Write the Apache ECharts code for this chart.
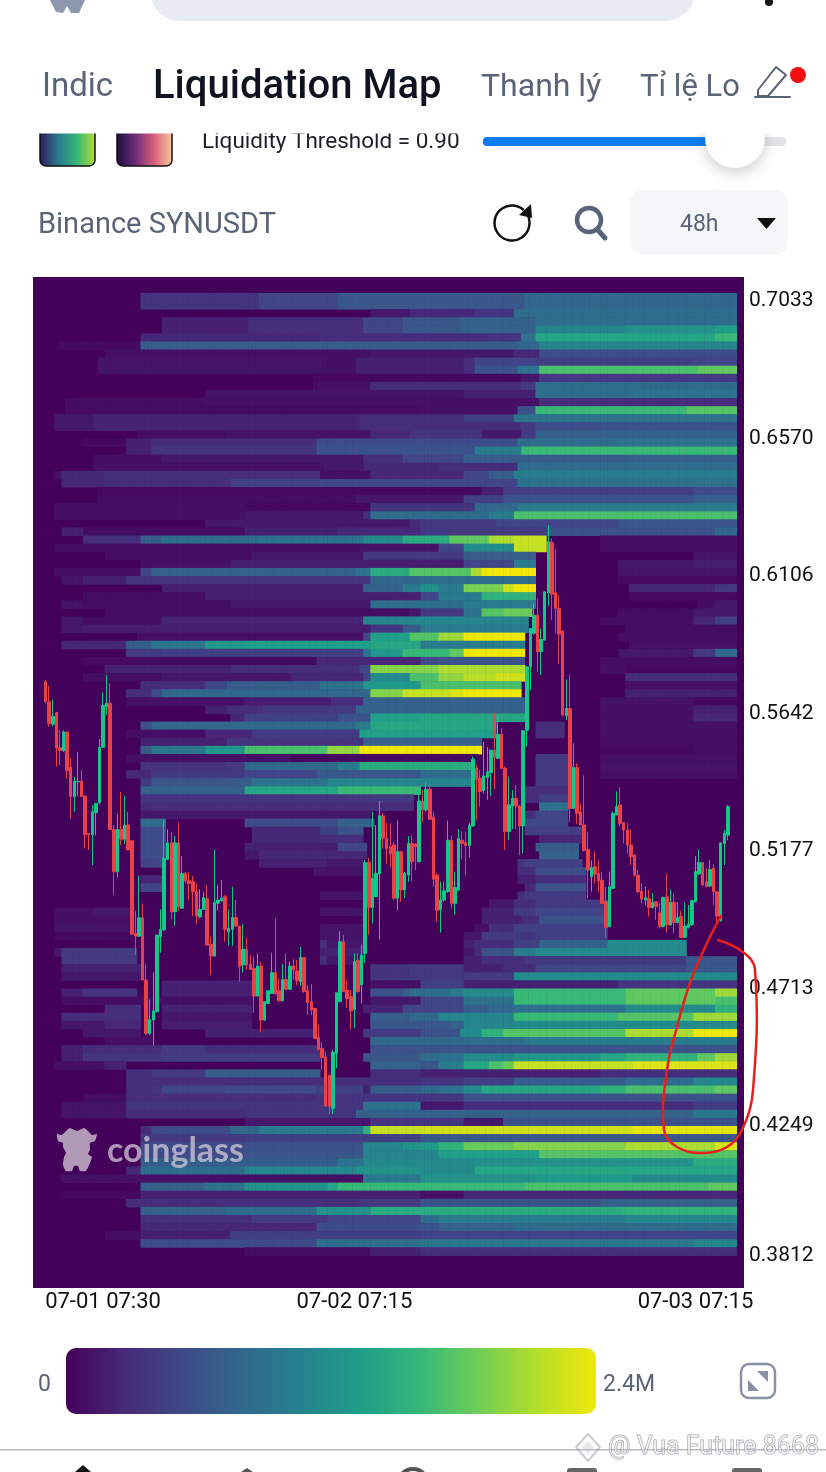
<!DOCTYPE html>
<html><head><meta charset="utf-8">
<style>html,body{margin:0;padding:0;background:#fff}#c{width:826px;height:1472px}</style>
<script src="https://cdn.jsdelivr.net/npm/echarts@6/dist/echarts.min.js"></script>
</head><body><div id="c"></div>
<script>
// ---- tick labels ----
const priceTicks = ['0.7033','0.6570','0.6106','0.5642','0.5177','0.4713','0.4249','0.3812'];
const timeTickLabels = ['07-01 07:30','07-02 07:15','07-03 07:15'];
const timeTickBars = [19, 89, 184];
const legendMin = '0', legendMax = '2.4M';
const maxLiquidity = 2.4; // millions
const viridis = ['#44015a','#472a7a','#3f4a89','#31688e','#26828e','#1f9e89','#35b779','#6ece58','#b5de2b','#f0e80a'];

// ---- price rows: 0.00273 per row, top to bottom ----
const rowCount = 125, barCount = 198, rowStep = 0.00273, topTickRow = 2, firstCandleBar = 3, heatEndBar = 196;

// ---- liquidation heat, one list per price row from 0.7033 downward;
//      each list is pairs: first bar of a run, liquidity (millions) ----
const heatRuns = [
[30,.35,63,.5,85,.65,137,.8],
[30,.35,63,.5,85,.65,137,.8],
[94,.15,105,.25,123,.35,134,.85],
[36,.2,60,.3,92,.5,103,.65,119,.75,140,.85],
[36,.2,60,.3,92,.5,103,.65,119,.75,140,1.1,165,1.22,190,1.35],
[30,.25,80,.3,127,.35,136,.9,140,1.42,190,1.62],
[7,.06,30,.7,135,.8,141,1.1],
[20,.1,94,.15,134,.25,141,.55],
[18,.12,82,.1,90,.2,120,.3,123,.5,140,.45,184,.5],
[18,.12,82,.1,90,.2,120,.3,123,.6,135,.9,141,1.7,185,1.8],
[78,.05,136,.15,141,.4],
[78,.1,94,.3,136,.4,140,.85],
[48,.12,120,.2,140,.85,167,.9],
[9,.08,48,.1,141,.3],
[9,.07,108,.1,135,.6,140,1.62,182,1.75],
[6,.15,17,.22,91,.3,120,.45,134,.9],
[6,.15,17,.22,91,.3,136,.4,140,.55,158,.6],
[29,.08,54,.12,94,.25,105,.35,125,.15,136,.4,140,.75],
[14,.05,26,.2,33,.3,79,.55,135,.85,163,.9],
[26,.2,33,.35,79,.6,123,1.0,136,1.62],
[17,.08,36,.15,92,.3,103,.5,120,.7,165,.75],
[17,.1,81,.15,92,.25,113,.3,135,.85],
[6,.1,8,.25,20,.3,80,.1,94,.25,120,.5,127,.7,134,1.0],
[8,.25,20,.3,55,.45,80,.5,135,.9],
[18,.05,125,.2,131,.45,184,.55],
[18,.08,90,.15,120,.45,131,.6,184,.75],
[6,.1,59,.05,94,.35,123,.8,135,1.0],
[6,.1,59,.15,92,.3,94,.85,127,1.0,134,1.7],
[48,.15,105,.3,108,.4,129,.5,163,.65],
[8,.2,14,.08,59,.2,85,.25,108,.4,143,.6,190,.8],
[14,.3,30,.7,36,.85,63,.9,92,1.15,103,1.48,116,1.8,127,2.1,134,2.2,143,0,158,.08],
[6,.08,91,.12,113,.5,120,1.15,134,2.2,143,0,158,.08],
[20,.08,61,.15,92,.4,120,.7,140,0,184,.12],
[30,.1,55,.18,120,.5,134,1.0,140,0,163,.15,184,.18],
[6,.1,30,.5,33,.75,90,.9,94,1.48,105,1.75,122,2.1,125,2.4,140,0,163,.12],
[8,.12,14,.2,26,.35,94,.8,108,.85,140,0,163,.05],
[36,.2,92,.75,103,1.0,108,1.22,113,1.0,120,1.9,131,2.25,134,2.4,140,0,166,.25,190,.4],
[14,.08,48,.2,108,.5,113,1.0,125,1.55,140,0,166,.05],
[8,.12,14,.08,55,.15,94,.85,120,1.0,140,0,185,.08,190,.15],
[20,.08,105,.15,108,.4,120,.9,125,1.75,131,1.85,139,0,163,.08,184,.15],
[8,.15,14,.08,36,.22,92,1.1,138,0,158,.08,184,.25,190,.45],
[8,.15,14,.18,94,.35,103,.7,108,1.0,138,0,165,.08],
[29,.1,92,.5,94,1.35,105,1.75,113,2.05,120,2.4,137,0,163,.08],
[8,.25,26,.7,33,.95,48,1.28,59,1.35,94,1.42,108,1.0,137,0,166,.1],
[26,.4,36,.45,92,.9,94,1.28,103,1.62,116,1.8,120,2.4,137,0,163,.15,184,.4,190,.8],
[14,.06,79,.25,108,.55,113,.6,137,0,158,.08],
[20,.2,55,.3,91,.5,94,1.95,113,2.1,137,0,158,.1,165,.05],
[14,.08,36,.15,72,.25,92,.5,94,1.15,105,1.7,113,2.0,120,2.15,129,2.25,137,0,165,.3],
[30,.3,48,.5,54,.7,80,.9,92,1.28,108,1.7,136,0,165,.1],
[26,.3,33,.55,36,.8,94,1.95,103,2.2,116,2.3,120,2.4,136,0,165,.2],
[26,.1,59,.18,83,.3,92,.75,137,0,158,.12,184,.05],
[48,.2,54,.3,64,.4,90,.75,137,0,158,.1,184,.2],
[55,.25,59,.45,85,.6,94,1.35,108,1.42,137,0,158,.1,184,.25],
[30,.6,33,.8,90,1.0,94,1.42,129,0,140,.3,148,0,158,.1],
[26,.08,48,.25,61,.4,91,1.35,129,0,140,.3,148,0,158,.1],
[30,.2,54,.35,92,.75,125,0,158,.08],
[30,.7,33,.95,48,1.28,59,1.7,82,2.0,91,2.4,125,0,158,.05,184,.08],
[26,.1,72,.05,124,0,140,.4,149,0,158,.1],
[30,.35,54,.4,59,.8,85,1.0,91,1.48,123,0,140,.4,149,0,158,.12],
[26,.25,33,.4,59,.5,79,.65,108,.85,122,0,140,.4,149,0,158,.1],
[30,.4,33,.65,55,.7,61,.9,82,1.1,122,0,140,.4,149,0],
[30,.75,59,1.42,85,1.62,108,0,137,.3,149,0],
[30,.35,94,.4,106,0,137,.3,141,.45,149,0],
[30,.3,94,.3,106,0,141,.9,149,0],
[30,.15,94,0,137,.3,140,.5,149,0],
[30,.85,37,0,59,.55,85,.75,95,0,137,.5,149,0],
[30,.55,37,0,61,.25,80,.45,85,.6,92,0,137,.45,153,0],
[30,.55,37,0,61,.25,80,.3,92,0,141,.25,153,0],
[30,.55,37,0,59,.2,85,.5,93,0,140,.7,152,0],
[30,.55,37,0,59,.15,63,.25,93,0,141,.75,152,0],
[30,.5,37,0,63,.2,82,.15,92,0,135,.35,137,.45,153,0],
[78,.12,92,0,135,.3,140,.55,154,0],
[30,.25,37,0,135,.2,140,.3,154,0],
[30,.5,37,0,137,.25,140,.6,154,0],
[80,.12,92,0,135,.3,137,.4,154,0],
[127,.15,134,.3,140,.4,160,0],
[6,.1,17,.15,27,0,80,.12,92,0,125,.2,134,.4,140,.5,160,0],
[6,.1,27,0,125,.2,136,.3,141,.6,160,0],
[6,.12,28,0,80,.12,92,0,123,.1,127,.3,134,.45,160,0],
[6,.05,28,0,80,.12,92,0,120,.15,125,.4,136,.35,140,.45,160,0],
[80,.3,82,.15,92,0,120,.2,123,.3,134,.45,141,.75,160,1.15,182,0],
[6,.15,8,.4,29,0,80,.2,92,0,120,.15,123,.3,125,.6,134,1.0,140,1.15,182,0],
[8,.4,29,0,80,.3,82,.15,91,0,120,.2,125,.3,137,.4,182,.65],
[8,.2,30,0,94,.35,105,.4,120,.2,131,.3,140,.5,182,.65],
[8,.15,30,0,94,.35,105,.4,120,.4,134,1.15],
[36,.2,61,0,94,.1,108,.45,120,.2,163,.35],
[8,.2,14,.35,29,0,36,.2,61,0,94,.6,103,.7,105,.85,116,1.0,120,1.15,134,1.62,165,1.8,190,2.05],
[8,.08,36,.1,61,0,94,.15,108,.5,120,.9,134,1.62,165,1.8,190,1.7],
[20,.3,30,0,36,.2,61,0,92,.2,103,.5,120,.7,127,.8,134,.9,165,1.15,190,1.55],
[8,.3,30,0,36,.15,61,0,94,.7,105,.8,113,1.1,134,1.62,163,1.75,184,2.05],
[8,.15,20,.25,30,0,36,.18,61,0,94,.65,116,.75,120,1.1,134,1.15],
[14,.15,30,0,48,.2,79,0,92,.4,108,.6,119,1.15,125,1.55,131,1.75,165,2.1,184,2.4],
[20,.1,33,0,94,.8,120,.85,137,1.0],
[8,.2,14,.3,36,.4,48,.3,80,0,94,.6],
[8,.2,14,.35,36,.4,48,.4,80,0,92,.65,108,.85,113,.9,120,1.15,134,1.28,158,1.42,165,1.55,185,1.8,190,2.05],
[6,.1,20,.2,26,0,94,.75,108,.65,113,1.0,120,1.42,127,1.7,131,1.85,134,2.2,167,2.3],
[26,.3,33,.4,48,.7,80,0,94,.3,108,.2,158,.3],
[26,.3,94,.3,108,.35,120,.45,134,.7,165,.85,184,1.1],
[26,.3,33,.35,36,.5,54,.55,79,.45,92,.2,94,.7,108,.8,113,.9,120,1.15,125,1.42,158,1.55,165,1.7,190,1.8],
[14,.08,26,.3,79,.35,120,.6],
[8,.12,26,.35,92,.9,108,.15,120,.3,184,.4],
[8,.12,26,.3,59,.35,90,.75,184,.95],
[59,.15,94,.35,120,.15,131,.6],
[30,.3,33,.55,55,.8,63,1.0,92,1.55,94,2.2,108,2.25,167,2.35],
[30,.4,59,.45,108,.65],
[30,.55,59,.6,92,1.1,103,1.22,108,1.28,113,1.55,120,1.85,134,1.95,165,2.1,190,2.3],
[30,.55,59,.65,92,1.1,113,1.35,141,1.75],
[30,.7,85,.9,92,1.15,123,1.22,184,1.48],
[26,.25,30,.85,59,1.1,90,1.22,108,1.15,123,1.42],
[8,.1,92,.95,108,1.22,140,1.28,167,1.15],
[30,.75,48,.9,59,1.22,82,1.42,85,1.62,137,1.7,188,1.8],
[8,.05,30,.2,108,.1,120,.25],
[26,.3,91,.4,108,.6,158,.75],
[30,.75,54,.85,79,1.22,94,1.48,164,1.55],
[30,.3,61,.4,82,.5,108,.85,113,1.0,165,1.1],
[30,.25,79,.55,108,.6,113,.75,134,.85],
[20,.08,30,.2,55,.45,108,.5],
[30,.55,79,.85,108,.95,184,1.1],
[59,.08,94,.2,108,.3]
];

// ---- price candles: open, close, low, high ----
const candles = [
[.5736,.5668,.5663,.5741],[.5668,.5595,.5584,.5721],[.5592,.5618,.5584,.5676],[.5631,.5511,.5449,.5634],
[.5513,.5503,.5454,.5572],[.5503,.5566,.5499,.5572],[.5566,.5435,.5409,.5566],[.5447,.5348,.5274,.5477],
[.5348,.5400,.5297,.5415],[.5398,.5400,.5350,.5497],[.5400,.5348,.5348,.5438],[.5350,.5220,.5173,.5350],
[.5223,.5219,.5168,.5223],[.5220,.5297,.5117,.5319],[.5294,.5325,.5216,.5325],[.5328,.5514,.5322,.5542],
[.5514,.5655,.5514,.5699],[.5651,.5663,.5623,.5758],[.5663,.5237,.5235,.5730],[.5237,.5094,.5016,.5252],
[.5094,.5237,.5075,.5289],[.5237,.5204,.5184,.5364],[.5204,.5252,.5188,.5350],[.5252,.5168,.5168,.5297],
[.5199,.4884,.4881,.5199],[.4886,.4877,.4813,.4963],[.4877,.4939,.4875,.5081],[.4939,.4729,.4729,.4987],
[.4729,.4549,.4543,.4783],[.4549,.4596,.4543,.4664],[.4594,.4625,.4509,.4754],[.4622,.4881,.4620,.4881],
[.4875,.4900,.4821,.4967],[.4898,.5139,.4895,.5269],[.5136,.5192,.5136,.5237],[.5192,.4959,.4934,.5229],
[.4959,.5192,.4911,.5215],[.5192,.4976,.4963,.5260],[.4971,.5089,.4971,.5147],[.5089,.5064,.5055,.5094],
[.5064,.5055,.4999,.5094],[.5061,.5027,.4945,.5080],[.5027,.4945,.4918,.5055],[.4942,.4967,.4937,.5035],
[.4967,.5007,.4967,.5027],[.5004,.4847,.4844,.5049],
[.4849,.4810,.4746,.4875],[.4810,.4990,.4808,.5170],[.4988,.4999,.4963,.5050],[.4997,.5005,.4993,.5067],
[.5010,.4900,.4858,.5016],[.4892,.4903,.4844,.4967],[.4900,.4940,.4844,.5044],[.4940,.4911,.4909,.4999],
[.4911,.4774,.4723,.4911],[.4780,.4833,.4754,.4917],[.4833,.4780,.4763,.4873],[.4783,.4765,.4763,.4813],
[.4768,.4675,.4619,.4808],[.4675,.4776,.4673,.4819],[.4776,.4594,.4553,.4791],[.4594,.4656,.4592,.4656],
[.4650,.4693,.4648,.4693],[.4684,.4754,.4682,.4821],[.4754,.4684,.4678,.4937],[.4693,.4659,.4656,.4734],
[.4659,.4731,.4656,.4783],[.4731,.4698,.4695,.4819],[.4698,.4776,.4695,.4791],[.4776,.4763,.4729,.4799],
[.4760,.4727,.4712,.4796],[.4723,.4805,.4709,.4841],[.4805,.4690,.4686,.4805],[.4693,.4653,.4611,.4712],
[.4656,.4628,.4611,.4715],[.4633,.4532,.4529,.4633],[.4535,.4495,.4493,.4580],[.4498,.4468,.4425,.4521],
[.4470,.4304,.4302,.4487],[.4408,.4302,.4277,.4408],[.4296,.4485,.4277,.4493],[.4481,.4686,.4431,.4686],
[.4656,.4858,.4656,.4894],[.4858,.4690,.4690,.4881],[.4695,.4667,.4636,.4729],[.4673,.4625,.4562,.4695],
[.4630,.4791,.4566,.4819],[.4796,.4690,.4686,.4819],[.4713,.4813,.4650,.4849],[.4819,.5125,.4785,.5134],
[.5126,.4974,.4881,.5140],[.4974,.5072,.4920,.5297],[.5010,.5089,.5010,.5252],[.5087,.5283,.4866,.5333],
[.5283,.5207,.5173,.5292],[.5207,.5173,.5123,.5258],[.5179,.5154,.5111,.5258],[.5185,.5005,.4999,.5196],
[.5005,.5162,.4963,.5267],[.5162,.5033,.4993,.5164],[.5033,.5089,.5005,.5095],[.5083,.5190,.5061,.5215],
[.5190,.5128,.5061,.5218],[.5188,.5179,.5100,.5188],[.5128,.5333,.5128,.5370],[.5333,.5303,.5260,.5370],
[.5303,.5373,.5297,.5398],[.5373,.5271,.5271,.5393],[.5278,.5069,.5044,.5297],[.5083,.4965,.4926,.5089],
[.4965,.4999,.4889,.5061],[.4999,.5030,.4993,.5061],[.5027,.5201,.5024,.5267],[.5201,.4988,.4971,.5215],
[.4988,.5041,.4948,.5095],[.5033,.5207,.5030,.5238],[.5201,.5190,.5136,.5230],[.5192,.5183,.5083,.5230],
[.5183,.5252,.5143,.5260],[.5249,.5474,.5247,.5483],[.5443,.5406,.5269,.5455],[.5410,.5365,.5314,.5438],
[.5368,.5418,.5359,.5533],[.5413,.5432,.5337,.5516],[.5429,.5505,.5350,.5505],[.5505,.5480,.5373,.5629],
[.5477,.5558,.5477,.5623],[.5558,.5443,.5443,.5578],[.5443,.5230,.5168,.5449],[.5230,.5320,.5201,.5415],
[.5316,.5342,.5238,.5370],[.5342,.5316,.5238,.5387],[.5316,.5249,.5151,.5320],[.5249,.5570,.5157,.5573],
[.5572,.5786,.5516,.5786],[.5786,.5915,.5707,.5915],[.5899,.5960,.5894,.6000],[.5960,.5837,.5769,.6017],
[.5837,.5878,.5758,.5915],[.5876,.6039,.5874,.6039],[.6036,.6208,.5991,.6264],[.6205,.6031,.5944,.6219],
[.6036,.5983,.5899,.6182],[.5983,.5896,.5797,.6028],[.5907,.5623,.5620,.5907],[.5621,.5645,.5606,.5743],
[.5645,.5308,.5263,.5758],[.5308,.5446,.5306,.5527],[.5446,.5291,.5257,.5460],[.5297,.5252,.5252,.5325],
[.5252,.5167,.5162,.5420],[.5170,.5100,.5004,.5229],[.5077,.5108,.5027,.5133],[.5111,.5086,.5055,.5162],
[.5088,.5064,.5027,.5133],[.5066,.4987,.4987,.5094],[.4993,.4906,.4869,.5043],
[.4909,.5044,.4907,.5095],[.5038,.5291,.5038,.5297],[.5286,.5314,.5286,.5365],[.5320,.5258,.5247,.5379],
[.5260,.5235,.5190,.5260],[.5235,.5185,.5156,.5260],[.5185,.5145,.5117,.5237],[.5151,.5083,.5078,.5151],
[.5083,.5027,.5022,.5100],[.5029,.5002,.4988,.5055],[.4999,.5007,.4982,.5044],[.5004,.4974,.4943,.5033],
[.4973,.4991,.4971,.5022],[.4993,.4977,.4932,.4993],[.4956,.4909,.4903,.4988],[.4909,.5008,.4907,.5010],
[.5010,.4915,.4889,.5089],[.4915,.4991,.4912,.5035],[.4991,.4923,.4886,.5022],[.4923,.4940,.4920,.4991],
[.4943,.4873,.4870,.4962],[.4873,.4911,.4870,.4991],[.4907,.4918,.4903,.4982],[.4915,.4997,.4912,.4999],
[.4993,.5095,.4991,.5147],[.5087,.5125,.5083,.5170],[.5125,.5050,.5046,.5125],[.5061,.5044,.5044,.5106],
[.5046,.5102,.5044,.5134],[.5106,.5027,.4982,.5120],[.5027,.4945,.4926,.5027],[.4929,.5192,.4926,.5192],
[.5190,.5224,.5117,.5235],[.5218,.5314,.5201,.5320]
];
const priceAxisMin = 0.3690, priceAxisMax = 0.7101;

// ---- build library inputs ----
const rowCategories = [];
for (let i = 0; i < rowCount; i++) rowCategories.push((0.7033 + (topTickRow - i) * rowStep).toFixed(4));
priceTicks.forEach(t => {
  const r = Math.round((0.7033 - parseFloat(t)) / rowStep) + topTickRow;
  rowCategories[r] = t;
});
const barCategories = [];
for (let i = 0; i < barCount; i++) barCategories.push(String(i));
timeTickBars.forEach((b, i) => { barCategories[b] = timeTickLabels[i]; });

const heatData = [];
heatRuns.forEach((runs, i) => {
  for (let k = 0; k < runs.length; k += 2) {
    const from = Math.floor(runs[k]), to = k + 2 < runs.length ? Math.floor(runs[k + 2]) : heatEndBar;
    if (runs[k + 1] > 0) for (let b = from; b < to; b++) heatData.push([b, i + topTickRow, runs[k + 1]]);
  }
});
const candleData = [];
for (let i = 0; i < firstCandleBar; i++) candleData.push('-');
candles.forEach(c => candleData.push(c));

// ---- page furniture ----
const F = 'Roboto, sans-serif', grey = '#5a6378', g = [];
const T = (x, y, text, size, fill, weight, extra) => g.push({
  type: 'text', x, y, silent: true, z: 50,
  style: Object.assign({ text, fill, font: (weight || 400) + ' ' + size + 'px ' + F, textVerticalAlign: 'middle' }, extra || {})
});
const R = (x, y, w, h, r, fill, z, extra) => g.push({ type: 'rect', silent: true, z: z || 40, shape: { x, y, width: w, height: h, r }, style: Object.assign({ fill }, extra || {}) });
const grad = cols => ({ type: 'linear', x: 0, y: 0, x2: 1, y2: 0, colorStops: cols.map((c, i) => ({ offset: i / (cols.length - 1), color: c })) });
const line = (pts, stroke, w, z, smooth) => g.push({ type: 'polyline', silent: true, z: z || 45, shape: { points: pts, smooth: smooth || 0 }, style: { stroke, lineWidth: w, fill: null, lineCap: 'round', lineJoin: 'round' } });
const poly = (pts, fill, z, smooth) => g.push({ type: 'polygon', silent: true, z: z || 45, shape: { points: pts, smooth: smooth || 0 }, style: { fill } });

// top bar
poly([[50,0],[56,12],[63,13],[67,6],[71,13],[79,13],[85,0]], '#8d97ad', 45);
R(150, -40, 545, 61, 30, '#e8eaf4');
g.push({ type: 'circle', silent: true, z: 45, shape: { cx: 769, cy: 2, r: 4 }, style: { fill: '#111' } });
// swatches, slider
R(40, 110, 55, 56, 6, grad(['#2e1a5e','#2a788e','#35b779','#b5de2b']), 30, { stroke: '#111', lineWidth: 1.5 });
R(117, 110, 55, 56, 6, grad(['#1a0f3a','#6b2a7a','#d9607a','#f8c9a0']), 30, { stroke: '#111', lineWidth: 1.5 });
R(483, 137, 303, 9, 4, '#e2e3e6', 30);
R(483, 137, 252, 9, 4, '#0a7cf5', 31);
g.push({ type: 'circle', silent: true, z: 32, shape: { cx: 735, cy: 138, r: 30 }, style: { fill: '#fff', shadowBlur: 14, shadowColor: 'rgba(0,0,0,0.18)', shadowOffsetY: 5 } });
T(202, 142, 'Liquidity Threshold = 0.90', 22.5, '#1b1f2a', 400, {});
R(0, 26, 826, 103, 0, '#fff', 36);
R(0, 129, 826, 4.5, 0, '#fff', 60);
// tabs
T(42, 88, 'Indic', 33, grey);
T(153, 88, 'Liquidation Map', 40, '#0f1320', 500);
T(481, 88, 'Thanh lý', 32, grey);
T(640, 88, 'Tỉ lệ Lo', 31, grey);
line([[758,90],[776,67],[786,75],[768,96],[758,96],[758,90]], grey, 2);
line([[755,97],[790,97]], grey, 2);
g.push({ type: 'circle', silent: true, z: 45, shape: { cx: 798, cy: 75, r: 8 }, style: { fill: '#f01010' } });
// controls row
T(38, 226, 'Binance SYNUSDT', 29, grey);
g.push({ type: 'arc', silent: true, z: 45, shape: { cx: 512, cy: 223, r: 17.5, startAngle: -0.6, endAngle: 5.45, clockwise: true }, style: { stroke: '#111', lineWidth: 2.5, fill: null } });
poly([[531,204],[532,218],[519,215]], '#111');
g.push({ type: 'circle', silent: true, z: 45, shape: { cx: 589, cy: 220, r: 12 }, style: { stroke: grey, lineWidth: 4.5, fill: null } });
line([[597,229],[605,238]], grey, 5);
R(630, 190, 158, 64, 12, '#f5f6f8');
T(680, 225, '48h', 23, grey);
poly([[757,218],[776,218],[766.5,229]], '#111');
// colour legend
T(38, 1385, legendMin, 23, grey);
R(66, 1348, 530, 66, 10, grad(viridis));
T(603, 1385, legendMax, 23, grey);
R(741, 1364, 34, 34, 8, 'rgba(0,0,0,0)', 45, { stroke: '#8a90a6', lineWidth: 2.5 });
poly([[757,1371],[768,1371],[768,1382]], '#8a90a6');
poly([[748,1380],[748,1391],[759,1391]], '#8a90a6');
// footer
R(0, 1449, 826, 1.5, 0, '#b9bbc2');
poly([[75,1472],[83,1465],[91,1472]], '#111');
poly([[241,1472],[247,1468],[253,1472]], '#555');
g.push({ type: 'circle', silent: true, z: 45, shape: { cx: 413, cy: 1484, r: 15 }, style: { stroke: '#555', lineWidth: 4, fill: null } });
R(567, 1468, 30, 10, 3, '#666');
R(732, 1468, 30, 10, 3, '#666');
T(608, 1448, '@ Vua Future 8668', 25, 'rgba(255,255,255,0.55)', 400, { stroke: 'rgba(110,110,120,0.65)', lineWidth: 1 });
line([[588,1434],[600,1447],[588,1461],[576,1447],[588,1434]], 'rgba(170,170,178,0.6)', 2);
poly([[588,1441],[594,1447],[588,1454],[582,1447]], 'rgba(190,190,195,0.35)');
// watermark
poly([[57,1134],[62,1135],[66,1131],[70,1128],[77,1131],[84,1128],[88,1131],[92,1135],[97,1134],[95,1141],[90,1143],[90,1150],[88,1154],[92,1157],[90,1163],[86,1171],[80,1171],[78,1166],[74,1166],[72,1171],[66,1171],[63,1165],[64,1157],[66,1153],[63,1147],[63,1143],[58,1141]], 'rgba(214,204,216,0.75)', 46, 0.15);
T(107, 1151, 'coinglass', 33, 'rgba(214,208,220,0.72)', 700, { font: '700 34px Lato, sans-serif' });
// hand-drawn note
line([[721,916],[707,943],[690,983],[677,1027],[667,1070],[664,1130],[677,1147],[703,1153],[727,1147],[742,1130],[753,1090],[755,970],[743,952],[718,940]], '#e8201c', 2.5, 48, 0.4);

const chart = echarts.init(document.getElementById('c'), null, { renderer: 'canvas', width: 826, height: 1472 });
chart.setOption({
  animation: false,
  backgroundColor: '#fff',
  grid: { left: 33, top: 277, width: 711, height: 1011, show: true, backgroundColor: viridis[0], borderWidth: 0, containLabel: false },
  xAxis: {
    type: 'category', data: barCategories, boundaryGap: true,
    axisLine: { show: false }, axisTick: { show: false }, splitLine: { show: false },
    axisLabel: { interval: (i, v) => timeTickLabels.includes(v), color: '#111', fontFamily: F, fontSize: 22, margin: 3, hideOverlap: false }
  },
  yAxis: [
    { type: 'category', data: rowCategories, inverse: true, position: 'right',
      axisLine: { show: false }, axisTick: { show: false }, splitLine: { show: false },
      axisLabel: { interval: (i, v) => priceTicks.includes(v), margin: 5, hideOverlap: false,
        formatter: '{a|{value}}', rich: { a: { color: '#111', fontFamily: F, fontSize: 21, padding: [8, 0, 0, 0] } } } },
    { type: 'value', min: priceAxisMin, max: priceAxisMax, show: false, splitLine: { show: false } }
  ],
  visualMap: { show: false, type: 'continuous', seriesIndex: 0, dimension: 2, min: 0, max: maxLiquidity, inRange: { color: viridis } },
  series: [
    { type: 'heatmap', data: heatData, xAxisIndex: 0, yAxisIndex: 0, progressive: 0, silent: true, itemStyle: { borderWidth: 0 }, emphasis: { disabled: true }, z: 1 },
    { type: 'candlestick', data: candleData, xAxisIndex: 0, yAxisIndex: 1, barWidth: 3, silent: true, z: 5,
      itemStyle: { color: '#12c98a', color0: '#e8414a', borderColor: '#12c98a', borderColor0: '#e8414a', borderWidth: 1 } }
  ],
  graphic: { elements: g }
});
</script></body></html>
